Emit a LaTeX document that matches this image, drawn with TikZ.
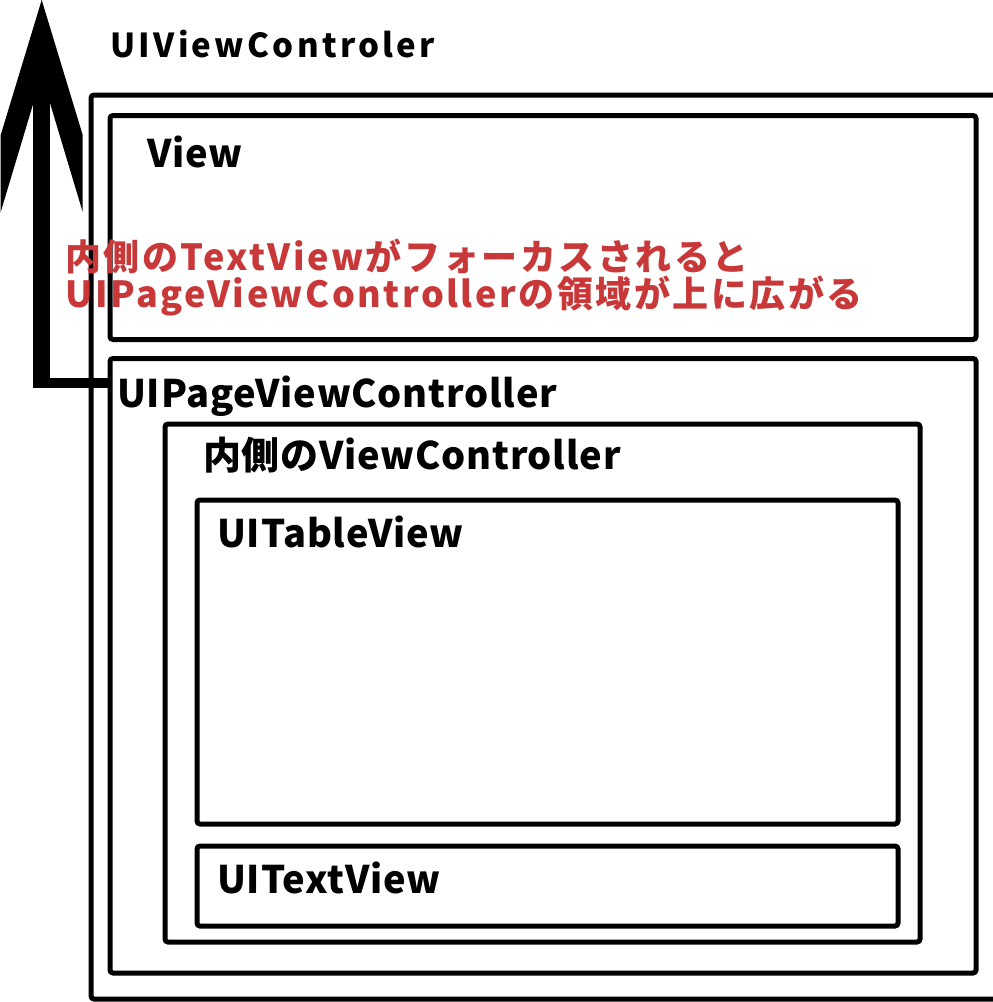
\documentclass[tikz,border=0pt]{standalone}
\usepackage{fontspec}
\setmainfont{Noto Sans CJK JP}[LetterSpace=2]
\usetikzlibrary{positioning}
\definecolor{notered}{RGB}{201,56,56}
\tikzset{
  viewbox/.style={draw,line width=5pt,rounded corners=3pt,anchor=north west,inner sep=0pt,outer sep=0pt},
  boxlabel/.style={anchor=base west,inner sep=0pt,font=\bfseries\fontsize{38}{38}\selectfont},
}

\begin{document}
\begin{tikzpicture}[x=1pt,y=-1pt]
  \useasboundingbox (0,0) rectangle (993,1002);
  \clip (0,0) rectangle (993,1002);

  % boxes
  \node[viewbox,minimum width=920pt,minimum height=904pt] (vc) at (91,95) {};
  \node[viewbox,minimum width=866pt,minimum height=224pt] (view) at (110,115.5) {};
  \node[viewbox,minimum width=866pt,minimum height=614.5pt] (pvc) at (110,358.5) {};
  \node[viewbox,minimum width=755pt,minimum height=518pt] (inner) at (165,424) {};
  \node[viewbox,minimum width=701pt,minimum height=324pt] (table) at (197,500) {};
  \node[viewbox,minimum width=701pt,minimum height=80pt] (textv) at (197,846) {};

  % labels
  \node[boxlabel,font=\bfseries\fontsize{33}{33}\selectfont\addfontfeature{LetterSpace=10}] (vclabel) at (110,57) {UIViewControler};
  \node[boxlabel] (viewlabel) at (147,167) {View};
  \node[boxlabel] (pvclabel) at (117,407) {UIPageViewController};
  \node[boxlabel] (innerlabel) at (203,469) {内側のViewController};
  \node[boxlabel] (tablelabel) at (217,547) {UITableView};
  \node[boxlabel] (textvlabel) at (217,893) {UITextView};

  \node[anchor=base west,inner sep=0pt,align=left,text=notered,
        font=\bfseries\fontsize{36}{37}\selectfont\addfontfeature{LetterSpace=7}] (note) at (65,307)
    {内側のTextViewがフォーカスされると\\UIPageViewControllerの領域が上に広がる};

  % arrow
  \coordinate (tip) at (41.7,0);
  \coordinate (bend) at (41.7,388);
  \fill (tip) -- ++(41,135) -- ++(0,77) -- (50,103) -- (33.4,103)
    -- (0.7,212) -- (0.7,135) -- cycle;
  \draw[line width=16.6pt] (bend) -- ([yshift=-103pt]tip);
  \draw[line width=10pt] ([yshift=-24.5pt]pvc.north west) -- ([yshift=5pt]bend);
\end{tikzpicture}
\end{document}
